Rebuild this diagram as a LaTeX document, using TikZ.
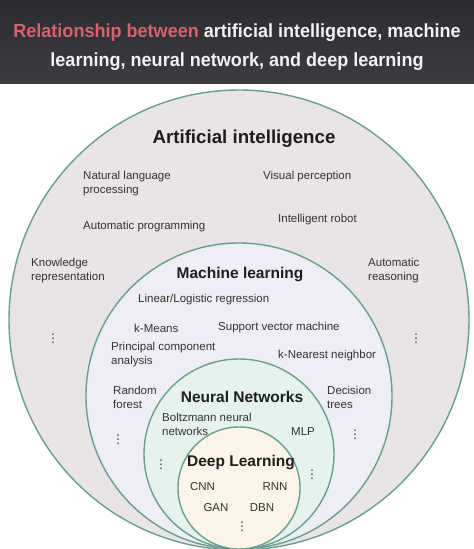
\documentclass[tikz,border=0pt]{standalone}
\usepackage{fontspec}
\setmainfont{Liberation Sans}
\newfontfamily\headfont[FakeStretch=0.95]{Liberation Sans}
\newfontfamily\dotfont{DejaVu Sans}
\definecolor{bandtop}{HTML}{2A2C30}
\definecolor{bandbot}{HTML}{3A3C40}
\definecolor{titlered}{HTML}{D9606C}
\definecolor{ringline}{HTML}{6A9E90}
\definecolor{aifill}{HTML}{E9E4E6}
\definecolor{mlfill}{HTML}{EDEEF6}
\definecolor{nnfill}{HTML}{E6F3EC}
\definecolor{dlfill}{HTML}{FBF4E9}
\definecolor{itemtext}{HTML}{333333}
\definecolor{headtext}{HTML}{1E1E1E}

\begin{document}
\begin{tikzpicture}
    [x=1pt,y=-1pt,
     area/.style={draw=ringline,line width=1.4pt},
     banner/.style={font=\headfont\bfseries\fontsize{19}{22}\selectfont,text=white!95!black,inner sep=0pt},
     head/.style={font=\bfseries\fontsize{15.5}{18}\selectfont,text=headtext,inner sep=0pt},
     item/.style={font=\fontsize{11.5}{14}\selectfont,text=itemtext,align=left,anchor=west,inner sep=0pt},
     more/.style={font=\fontsize{11.5}{14}\selectfont,text=itemtext,inner sep=0pt}]

    \useasboundingbox (0,0) rectangle (474,549);
    \fill[white] (0,0) rectangle (474,549);

    % title band
    \shade[top color=bandtop,bottom color=bandbot] (0,0) rectangle (474,83);
    \node[banner] (T-1) at (237,33) {\textcolor{titlered}{Relationship between} artificial intelligence, machine};
    \node[banner] (T-2) at (237,62) {learning, neural network, and deep learning};

    % nested areas, all touching at the bottom
    \foreach \fillc/\cy/\r in {aifill/320/230, mlfill/396/153, nnfill/454/95, dlfill/488/61}
      \draw[area,fill=\fillc] (239,\cy) circle[radius=\r pt];

    \node[head,font=\bfseries\fontsize{18.7}{21}\selectfont] (H-AI) at (244,139) {Artificial intelligence};
    \foreach \name/\x/\y/\text in {ML/240/275/Machine learning, NN/242/397/Neural Networks, DL/241/463/Deep Learning}
      \node[head] (H-\name) at (\x,\y) {\text};

    \foreach \name/\x/\y/\text in {nlp/83/183.5/Natural language\\processing, vis/263/177/Visual perception,
                                   prog/83/227/Automatic programming, robot/278/220/Intelligent robot,
                                   know/31/271/Knowledge\\representation, reason/368/271/Automatic\\reasoning,
                                   lin/138/300/{Linear/Logistic regression}, kmeans/134/328/k-Means,
                                   svm/218/328/Support vector machine, pca/111/355/Principal component\\analysis,
                                   knn/278/356/k-Nearest neighbor, forest/113/397/Random\\forest,
                                   tree/327/397/Decision\\trees, boltz/162/424.5/Boltzmann neural\\networks,
                                   mlp/291/432/MLP}
      \node[item] (I-\name) at (\x,\y) {\text};

    \foreach \name/\x/\y/\text in {cnn/202.5/487/CNN, rnn/275/487/RNN, gan/216/508/GAN, dbn/262/508/DBN}
      \node[more] (I-\name) at (\x,\y) {\text};

    \foreach \name/\x/\y in {1/53/339, 2/416/339, 3/118/440, 4/355/435, 5/161/465, 6/312/475, 7/242/527}
      \node[more,font=\dotfont\fontsize{12}{14}\selectfont] (D-\name) at (\x,\y) {⋮};
  \end{tikzpicture}
\end{document}
